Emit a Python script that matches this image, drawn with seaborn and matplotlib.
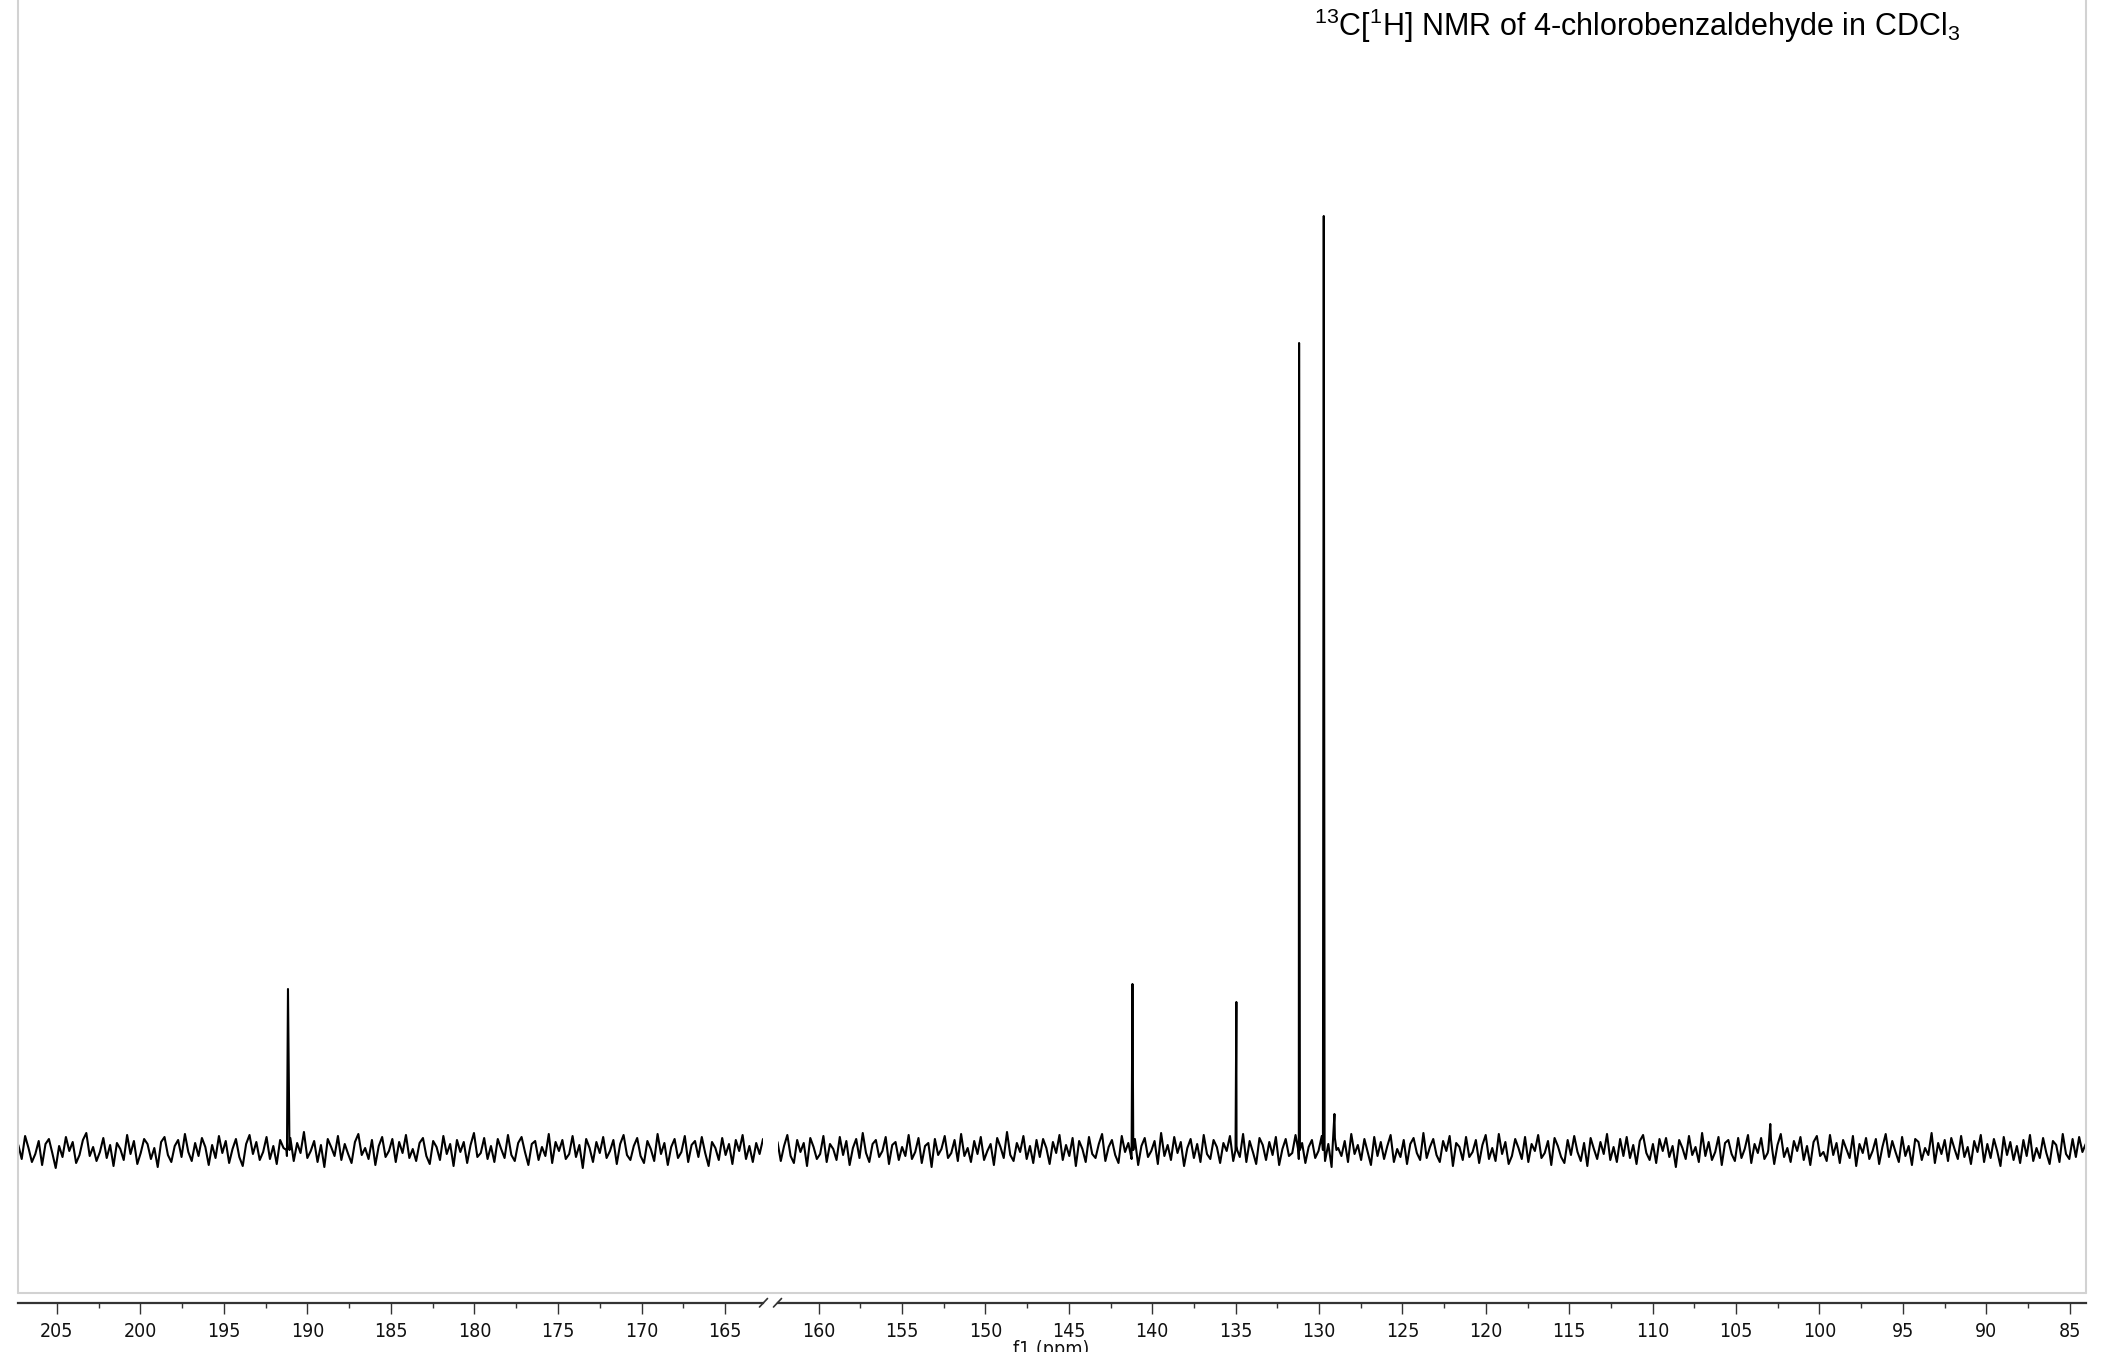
import numpy as np
import pandas as pd
import matplotlib
matplotlib.use("Agg")
import matplotlib.pyplot as plt
from matplotlib.lines import Line2D
from matplotlib.ticker import MultipleLocator, FuncFormatter
import seaborn as sns


# spectrum data (intensity in arbitrary units, baseline = 0)
peak_ppm = [191.16, 141.19, 134.96, 131.20, 129.72, 129.08, 102.95]
peak_height = [161, 166, 148, 807, 934, 36, 26]
peak_halfwidth = [0.09, 0.05, 0.05, 0.05, 0.05, 0.12, 0.12]

# baseline noise read (roughly) from the picture, left region 207.3 - 162.75 ppm
noise_left = [
    5, -9, 14, 2, -12, -4, 9, -15, 6, 11, -3, -18, 4, -7, 13, -1, 8, -13, -5, 10,
    17, -6, 3, -11, -2, 12, -8, 5, -16, 7, 1, -10, 15, -4, 9, -14, -3, 11, 6, -9,
    2, -17, 8, 13, -5, -12, 4, 10, -7, 16, -2, -11, 7, -6, 12, 3, -15, 5, -8, 14,
    -3, 9, -13, 1, 11, -7, -16, 6, 15, -4, 8, -10, -2, 13, -9, 4, -14, 10, 2, -6,
    12, -11, 7, -3, 18, -8, -1, 9, -12, 5, -17, 11, 3, -6, 14, -10, 6, -4, -13, 8,
    16, -5, 2, -9, 10, -15, 4, 13, -7, -1, 11, -12, 8, -3, 15, -8, 1, -11, 7, 12,
    -6, -14, 9, 3, -10, 14, -4, 6, -16, 10, -2, 8, -13, 5, 17, -7, -3, 12, -9, 4,
    -12, 11, 1, -8, 15, -5, -11, 7, 13, -2, -15, 6, 9, -10, 3, -6, 16, -13, 8, -1,
    10, -9, -4, 14, -7, 5, -18, 11, 2, -12, 8, -3, 13, -8, -1, 10, -14, 6, 15, -5,
    -10, 4, 12, -6, -13, 9, 1, -11, 16, -4, 7, -15, 3, 11, -8, -2, 14, -12, 5, 9,
    -7, 13, -3, -16, 8, 2, -10, 12, -5, 6, -14, 10, -1, 15, -9, 4, -12, 7, -4, 11,
]

# right region 162.47 - 84.04 ppm
noise_right = [
    8, -11, 4, 15, -6, -13, 10, -2, 7, -16, 12, 3, -9, -4, 14, -12, 6, 1, -10, 13,
    -5, 9, -15, 2, 11, -8, 17, -3, -12, 6, 10, -7, -1, 13, -14, 5, 8, -10, 3, -6,
    15, -9, -2, 12, -13, 4, 7, -17, 11, -5, 1, 14, -8, -3, 10, -11, 16, -6, 2, -12,
    9, -4, 13, -10, -1, 6, -15, 12, 3, -8, 18, -5, -11, 7, -2, 14, -9, 4, -13, 10,
    -7, 11, 2, -14, 8, -3, 15, -10, 5, -6, 12, -16, 9, 1, -12, 13, -4, -8, 6, 16,
    -11, 3, 10, -5, -13, 14, -2, 7, -9, 11, -15, 4, 12, -7, -1, 9, -14, 17, -6, 5,
    -10, 13, -3, 8, -16, 2, 11, -8, 6, -12, 15, -4, -9, 10, 3, -13, 7, -1, 14, -11,
    4, -7, 16, -12, 9, -2, -14, 12, 5, -10, 8, -5, 13, -15, 1, 11, -6, -3, 15, -9,
    7, -13, 3, 10, -8, -1, 14, -11, 6, -17, 12, 2, -6, 9, -12, 16, -4, 5, -10, 11,
    -2, -15, 13, -6, 8, -9, 4, 15, -12, 1, -7, 10, -14, 6, 12, -3, -10, 17, -8, 3,
    11, -5, -12, 9, -1, 14, -16, 7, 3, -10, 13, -7, -2, 10, -13, 5, 15, -9, 2, -11,
    16, -4, 8, -14, -6, 11, 2, -9, 13, -12, 6, -1, 15, -8, -3, 9, -15, 12, 4, -7,
    -13, 10, -5, 14, -2, -11, 7, -16, 12, 1, -9, 8, -4, 16, -10, 3, -12, 11, -6, 13,
    -8, 5, -14, 9, 15, -3, -10, 6, -13, 11, -1, 12, -7, 4, -17, 10, 2, -9, 14, -5,
    3, -12, 17, -6, 8, -10, -2, 13, -15, 7, 10, -4, -11, 12, -8, 1, 15, -13, 6, -3,
    12, -9, -3, 11, -14, 5, 16, -7, 2, -12, 9, -1, 13, -10, 4, -15, 8, 14, -6, -2,
    -11, 15, -5, 7, -13, 10, 1, -8, 14, -16, 6, -3, 12, -9, -1, 11, -14, 3, 16, -7,
    9, -2, -12, 13, -6, 4, -15, 11, 8, -10, 2, -5, 17, -13, 7, -4, 10, -11, 12, 1,
    -9, 14, -7, 3, -14, 9, -2, 15, -12, 6, -8, 11, -1, -16, 13, -5, 8, -10, 4, -13,
    10, -6, 15, -11, 2, -8, 12, -3, -14, 9, 5, -12, 16, -4, -9, 11, -7, 13, -2, 6,
]

left_range = (207.3, 162.73)
right_range = (162.47, 84.04)
title = r"$^{13}$C[$^{1}$H] NMR of 4-chlorobenzaldehyde in CDCl$_{3}$"


def build_segment(noise, lo_hi):
    ppm = np.linspace(lo_hi[0], lo_hi[1], len(noise))
    xs = list(ppm)
    ys = list(noise)
    for p, h, w in zip(peak_ppm, peak_height, peak_halfwidth):
        if min(lo_hi) < p < max(lo_hi):
            xs += [p + w, p, p - w]
            ys += [0, h, 0]
    df = pd.DataFrame({"ppm": xs, "intensity": ys})
    return df.sort_values("ppm", ascending=False).reset_index(drop=True)


left_df = build_segment(noise_left, left_range)
right_df = build_segment(noise_right, right_range)

sns.set_theme(style="white")
plt.rcParams["font.family"] = ["DejaVu Sans"]
plt.rcParams["font.stretch"] = "condensed"
plt.rcParams["mathtext.default"] = "regular"

W, H = 2103, 1352
fig = plt.figure(figsize=(W / 100, H / 100), dpi=100)
fig.patch.set_facecolor("white")

frame_bottom = 1293


def box(x0, x1):
    return [x0 / W, (H - frame_bottom) / H, (x1 - x0) / W, frame_bottom / H]


ax1 = fig.add_axes(box(18.3, 763))
ax2 = fig.add_axes(box(777.5, 2085.7))

axis_col = "#333333"
for ax, df, rng in [(ax1, left_df, left_range), (ax2, right_df, right_range)]:
    sns.lineplot(data=df, x="ppm", y="intensity", ax=ax, sort=False,
                 estimator=None, color="black", linewidth=1.5)
    ax.set_xlim(rng)
    ax.set_ylim(-143, 1150)
    ax.set_facecolor("none")
    for s in ["top", "left", "right"]:
        ax.spines[s].set_visible(False)
    ax.spines["bottom"].set_position(("outward", 7))
    ax.spines["bottom"].set_color(axis_col)
    ax.spines["bottom"].set_linewidth(1.6)
    ax.xaxis.set_major_locator(MultipleLocator(5))
    ax.xaxis.set_minor_locator(MultipleLocator(2.5))
    ax.tick_params(axis="x", which="major", direction="out", length=8,
                   width=1.0, color=axis_col, labelsize=14, pad=6,
                   bottom=True, labelcolor="#111111")
    ax.tick_params(axis="x", which="minor", direction="out", length=3.5,
                   width=1.0, color=axis_col, bottom=True)
    ax.set_yticks([])
    ax.set_xlabel("")
    ax.set_ylabel("")
    ax.grid(False)
    ax.xaxis.set_major_formatter(FuncFormatter(lambda v, p: f"{v:.0f}"))


# light grey frame around the plotting area (open at the top)
def fig_line(xs, ys, **kw):
    fig.add_artist(Line2D([x / W for x in xs], [(H - y) / H for y in ys],
                          transform=fig.transFigure, **kw))


grey = "#d2d2d2"
fig_line([18.3, 18.3], [0, frame_bottom], color=grey, lw=1.5)
fig_line([2085.7, 2085.7], [0, frame_bottom], color=grey, lw=1.5)
fig_line([18.3, 2085.7], [frame_bottom, frame_bottom], color=grey, lw=1.5)

# axis break marks
fig_line([759.5, 767.5], [1307, 1298.5], color=axis_col, lw=1.2)
fig_line([773.5, 781.5], [1307, 1298.5], color=axis_col, lw=1.2)

fig.text(1051 / W, (H - 1340) / H, "f1 (ppm)", ha="center", va="top",
         fontsize=14, color="#111111")
fig.text(1314 / W, (H - 36) / H, title, ha="left", va="baseline",
         fontsize=22, family=["Liberation Sans", "DejaVu Sans"],
         fontstretch="normal", color="black")

fig.savefig("out.png", dpi=100)
